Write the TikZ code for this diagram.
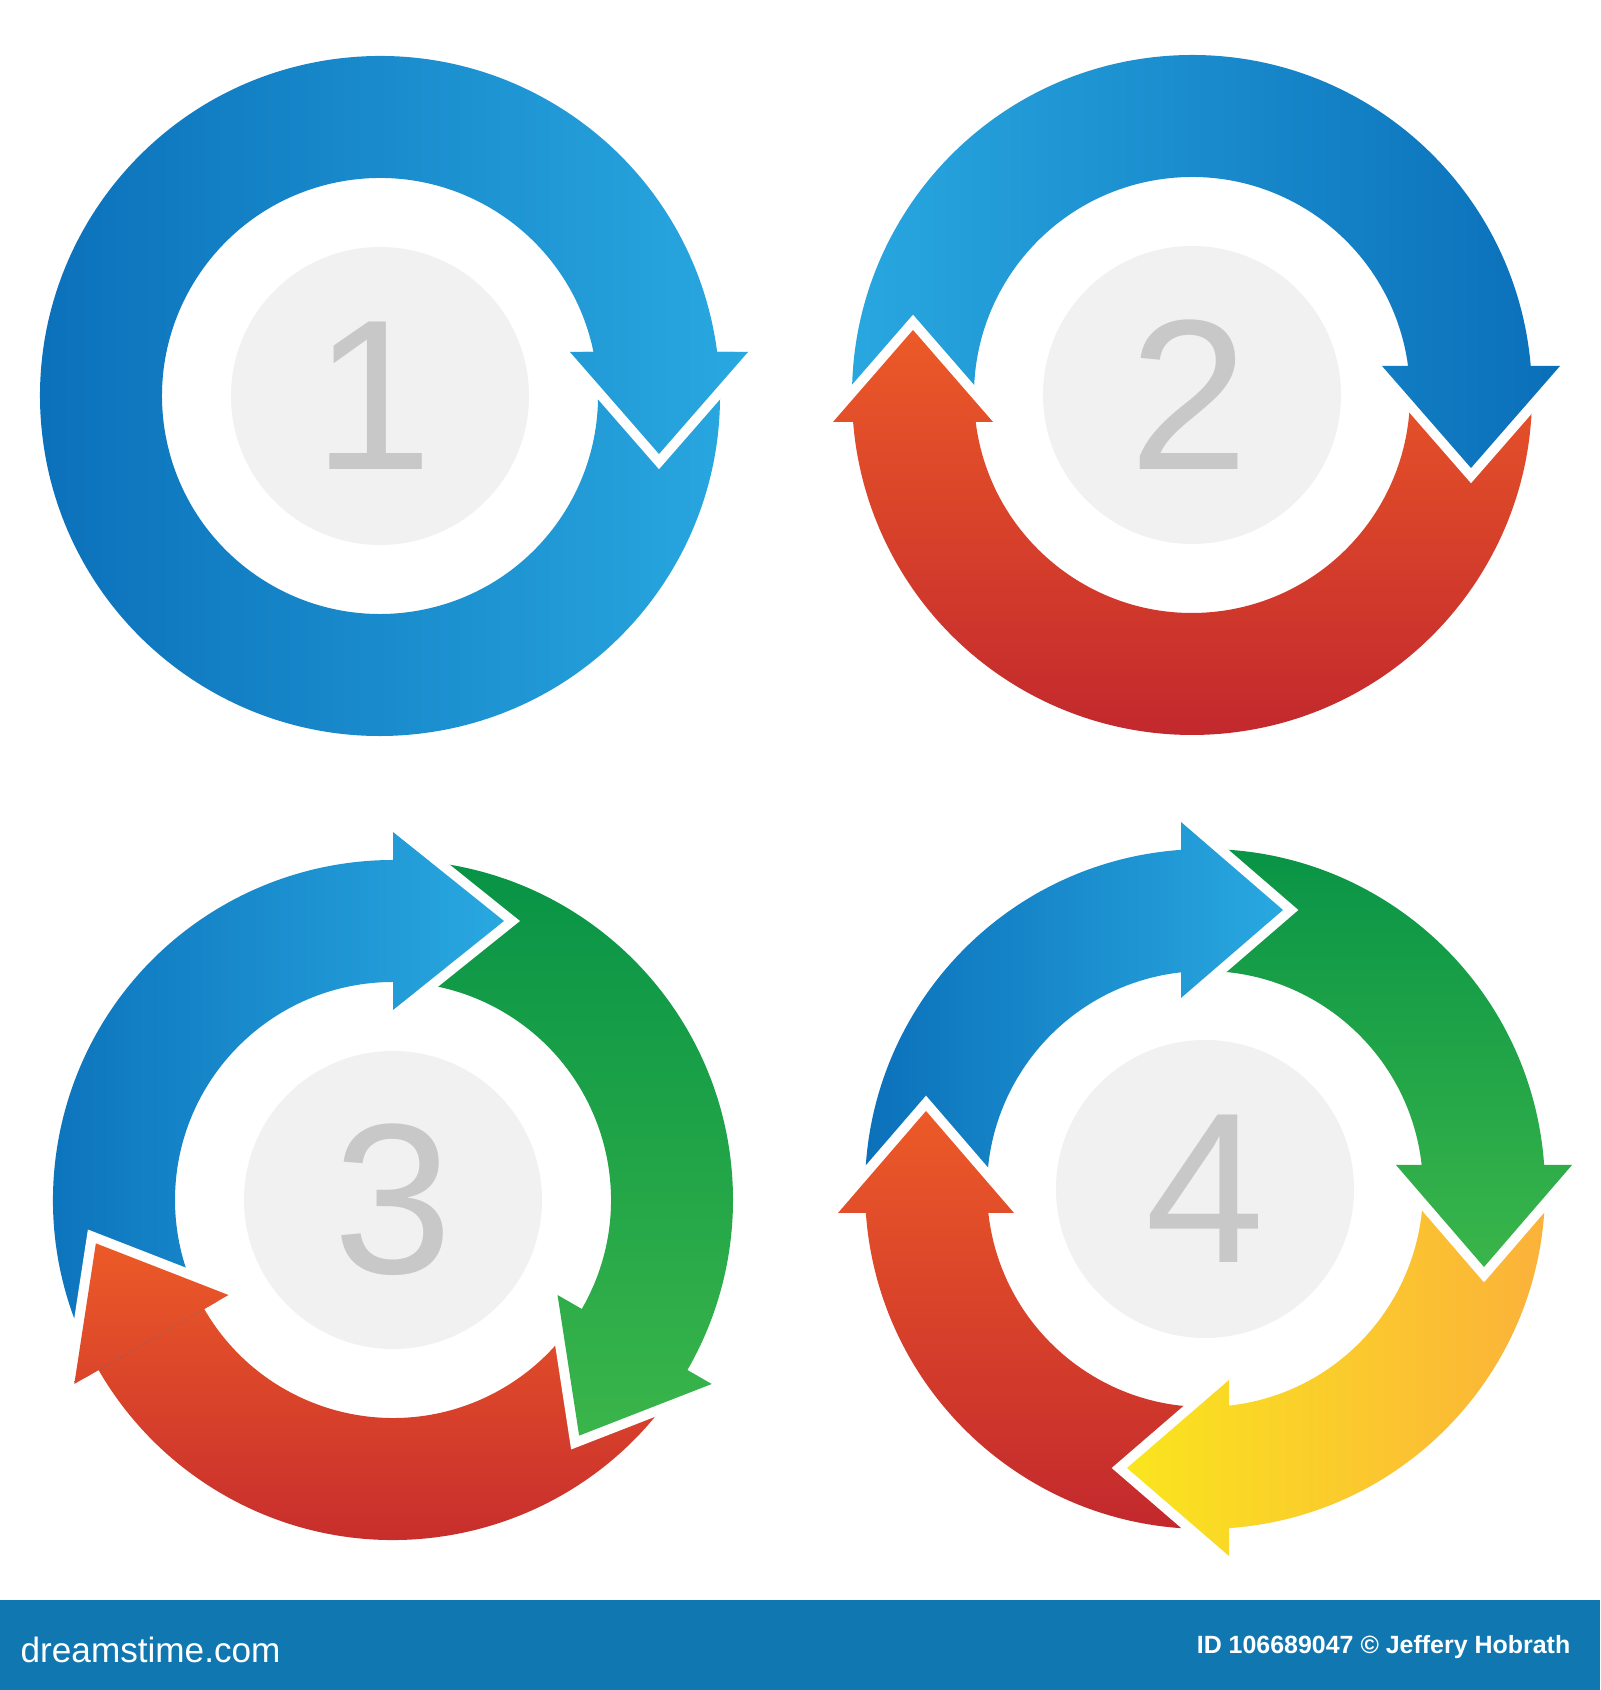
\documentclass[tikz,border=0pt]{standalone}
\usepackage{fontspec}
\setmainfont{Liberation Sans}
\usetikzlibrary{calc}

\definecolor{bluedark}{HTML}{0A6FB9}
\definecolor{bluelight}{HTML}{29A8E0}
\definecolor{redtop}{HTML}{EC5A28}
\definecolor{redbottom}{HTML}{C1272D}
\definecolor{greentop}{HTML}{079346}
\definecolor{greenbottom}{HTML}{3AB54A}
\definecolor{yellowleft}{HTML}{FAE51E}
\definecolor{yellowright}{HTML}{FBB03B}
\definecolor{diskgray}{HTML}{F1F1F1}
\definecolor{numgray}{HTML}{C8C8C8}
\definecolor{banner}{HTML}{1177B0}

% ring: inner radius 218, outer 340, middle 279
\newcommand{\setarrow}[7]{%
  \def\arrC{#1}\def\arrPsi{#4}\def\arrB{#5}\def\arrW{#6}\def\arrL{#7}%
  \pgfmathsetmacro{\aot}{#2+asin(#3/340)}%
  \pgfmathsetmacro{\ait}{#2+asin(#3/218)}%
  \pgfmathsetmacro{\aoh}{#4+asin(#5/340)}%
  \pgfmathsetmacro{\aih}{#4+asin(#5/218)}}
\newcommand{\headpath}{($(\arrC)+(\arrPsi:{279+\arrW})+({\arrPsi+90}:\arrB)$)
  -- ($(\arrC)+(\arrPsi:279)+({\arrPsi+90}:{\arrB-\arrL})$)
  -- ($(\arrC)+(\arrPsi:{279-\arrW})+({\arrPsi+90}:\arrB)$)}
\newcommand{\arrowpath}{($(\arrC)+(\aot:340)$) arc[start angle=\aot, end angle=\aoh, radius=340]
  -- \headpath -- ($(\arrC)+(\aih:218)$) arc[start angle=\aih, end angle=\ait, radius=218] -- cycle}

\begin{document}
\begin{tikzpicture}[x=0.1mm, y=0.1mm,
    whitegap/.style={draw=white, line width=2mm, line join=miter},
    blueLR/.style={left color=bluedark, right color=bluelight},
    blueRL/.style={left color=bluelight, right color=bluedark},
    redTB/.style={top color=redtop, bottom color=redbottom},
    greenTB/.style={top color=greentop, bottom color=greenbottom},
    yellowLR/.style={left color=yellowleft, right color=yellowright},
    numeral/.style={text=numgray, font=\fontsize{61}{61}\selectfont, inner sep=0pt}]
\fill[white] (0,0) rectangle (1600,1690);
\useasboundingbox (0,0) rectangle (1600,1690);

\coordinate (c1) at (380,1294);
\coordinate (c2) at (1192,1295);
\coordinate (c3) at (393,490);
\coordinate (c4) at (1205,501);

% 1
\setarrow{c1}{360}{44}{0}{44}{89}{102}
\shade[blueLR] \arrowpath;
\draw[whitegap] \headpath;
\begin{scope}
  \clip \headpath -- cycle;
  \shade[blueLR] \arrowpath;
\end{scope}
\fill[diskgray] (c1) circle[radius=149];
\node[numeral] (n1) at ($(c1)+(-7,0)$) {1};

% 2
\setarrow{c2}{0}{29}{-180}{27}{80}{92}
\draw[whitegap] \headpath;
\shade[redTB] \arrowpath;
\setarrow{c2}{180}{27}{0}{29}{89}{102}
\draw[whitegap] \headpath;
\shade[blueRL] \arrowpath;
\setarrow{c2}{0}{29}{-180}{27}{80}{92}
\draw[whitegap] \headpath;
\begin{scope}
  \clip \headpath -- cycle;
  \shade[redTB] \arrowpath;
\end{scope}
\fill[diskgray] (c2) circle[radius=149];
\node[numeral] (n2) at ($(c2)+(-3,0)$) {2};

% 3
\setarrow{c3}{-30}{0}{-150}{0}{89}{111}
\draw[whitegap] \headpath;
\shade[redTB] \arrowpath;
\setarrow{c3}{90}{0}{-30}{0}{89}{111}
\draw[whitegap] \headpath;
\shade[greenTB] \arrowpath;
\setarrow{c3}{210}{0}{90}{0}{89}{111}
\draw[whitegap] \headpath;
\shade[blueLR] \arrowpath;
\setarrow{c3}{-30}{0}{-150}{0}{89}{111}
\draw[whitegap] \headpath;
\begin{scope}
  \clip \headpath -- cycle;
  \shade[redTB] \arrowpath;
\end{scope}
\fill[diskgray] (c3) circle[radius=149];
\node[numeral] (n3) at (c3) {3};

% 4
\setarrow{c4}{-90}{24}{-180}{24}{88}{102}
\draw[whitegap] \headpath;
\shade[redTB] \arrowpath;
\setarrow{c4}{0}{24}{-90}{24}{88}{102}
\draw[whitegap] \headpath;
\shade[yellowLR] \arrowpath;
\setarrow{c4}{90}{24}{0}{24}{88}{102}
\draw[whitegap] \headpath;
\shade[greenTB] \arrowpath;
\setarrow{c4}{180}{24}{90}{24}{88}{102}
\draw[whitegap] \headpath;
\shade[blueLR] \arrowpath;
\setarrow{c4}{-90}{24}{-180}{24}{88}{102}
\draw[whitegap] \headpath;
\begin{scope}
  \clip \headpath -- cycle;
  \shade[redTB] \arrowpath;
\end{scope}
\fill[diskgray] (c4) circle[radius=149];
\node[numeral] (n4) at (c4) {4};

% banner
\fill[banner] (0,0) rectangle (1600,90);
\node[anchor=base west, text=white, inner sep=0pt, font=\fontsize{10}{12}\selectfont] (logo) at (20,27) {dreamstime.com};
\node[anchor=base east, text=white, inner sep=0pt, font=\bfseries\fontsize{7.1}{9}\selectfont] (credit) at (1571,37) {ID 106689047 © Jeffery Hobrath};
\end{tikzpicture}
\end{document}
